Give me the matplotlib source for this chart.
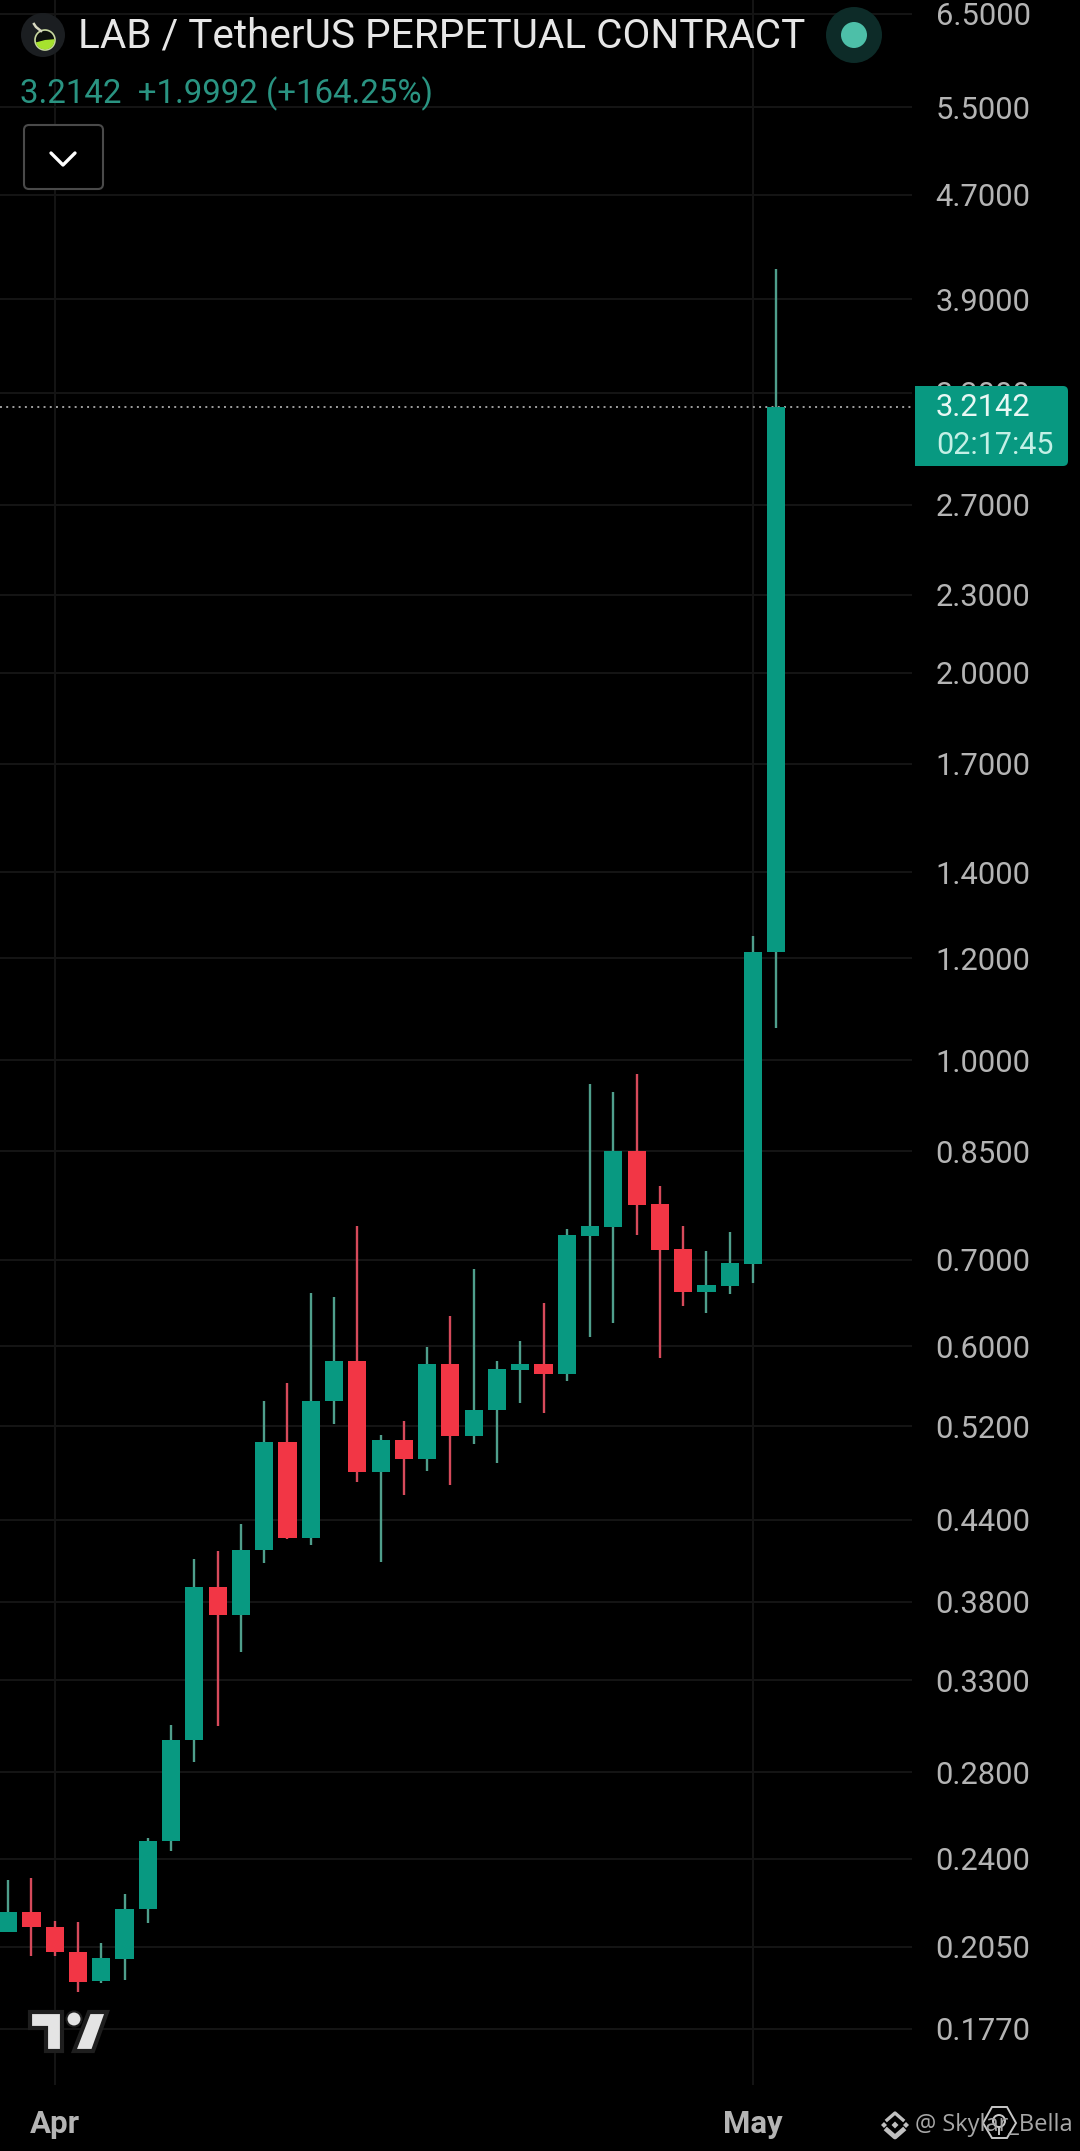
import matplotlib
matplotlib.use('Agg')
import matplotlib.pyplot as plt
from matplotlib.patches import Circle, FancyBboxPatch, Polygon, Rectangle, Wedge

# days counted from Apr 1
days = list(range(-2, 32))
opens = [.2106, .2181, .2122, .2032, .1929, .2007, .2192, .2475, .2965, .3900, .3713, .4165,
         .5057, .4261, .5435, .5845, .4795, .5075, .4905, .5814, .5105, .5355, .5752, .5807,
         .5710, .7309, .7431, .8509, .7740, .7137, .6615, .6684, .6952, 1.2150]
highs = [.2311, .2317, .2148, .2144, .2063, .2252, .2489, .3047, .4100, .4161, .4367, .5441,
         .5616, .6597, .6546, .7441, .5120, .5250, .5996, .6335, .6890, .5841, .6058, .6485,
         .7401, .9592, .9455, .9765, .7992, .7441, .7116, .7362, 1.2498, 4.120]
lows = [.2106, .2015, .2018, .1892, .1921, .1930, .2138, .2433, .2850, .3043, .3474, .4075,
        .4252, .4201, .5222, .4710, .4082, .4594, .4801, .4682, .5039, .4870, .5422, .5327,
        .5640, .6101, .6256, .7322, .5877, .6448, .6369, .6589, .6720, 1.0591]
closes = [.2181, .2122, .2032, .1926, .2008, .2193, .2476, .2966, .3900, .3713, .4169, .5057,
          .4261, .5441, .5845, .4795, .5075, .4905, .5814, .5105, .5355, .5762, .5807, .5710,
          .7322, .7441, .8509, .7726, .7129, .6615, .6696, .6966, 1.2150, 3.2142]

price_ticks = [6.5, 5.5, 4.7, 3.9, 3.3, 2.7, 2.3, 2.0, 1.7, 1.4, 1.2, 1.0, .85, .7, .6, .52,
               .44, .38, .33, .28, .24, .205, .177]
month_days = [0, 30]
month_labels = ['Apr', 'May']
last_price = 3.2142
title = 'LAB / TetherUS PERPETUAL CONTRACT'
change_text = '3.2142  +1.9992 (+164.25%)'
countdown = '02:17:45'

GREEN = '#089981'
RED = '#F23645'
W, H = 1080, 2151

plt.rcParams['font.family'] = ['Roboto', 'DejaVu Sans']
fig = plt.figure(figsize=(W / 100, H / 100), dpi=100, facecolor='black')

# chart area ends at x=912, y=2085
ax = fig.add_axes([0, 1 - 2085 / H, 912 / W, 2085 / H], facecolor='black')
ax.set_yscale('log')

up = [c >= o for o, c in zip(opens, closes)]
body_colors = [GREEN if u else RED for u in up]
wick_colors = ['#4f9f8c' if u else '#d64a5b' for u in up]
ax.vlines(days, lows, highs, colors=wick_colors, linewidth=1.7, zorder=3)
ax.bar(days, [abs(c - o) for o, c in zip(opens, closes)], bottom=[min(o, c) for o, c in zip(opens, closes)],
       width=0.78, color=body_colors, linewidth=0, zorder=4)

ax.axhline(last_price, color='#a0a0a0', linewidth=1.4, linestyle=(0, (1, 2.2)), zorder=2)

ax.set_xlim(-2.35, 36.83)
ax.set_ylim(0.1601, 6.66)
ax.set_yticks(price_ticks)
ax.set_yticklabels(['%.4f' % t for t in price_ticks])
ax.minorticks_off()
ax.set_xticks(month_days)
ax.set_xticklabels(month_labels)
ax.yaxis.tick_right()
ax.tick_params(axis='y', length=0, pad=17, labelsize=22.2, labelcolor='#b4b4b4')
ax.tick_params(axis='x', length=0, pad=17, labelsize=22.5, labelcolor='#b4b4b4')
for lab in ax.get_xticklabels():
    lab.set_fontweight('bold')
ax.grid(True, color='#151515', linewidth=1.4, zorder=0)
ax.set_axisbelow(True)
for s in ax.spines.values():
    s.set_visible(False)

# overlay in pixel coordinates for header, price tag, logos
ov = fig.add_axes([0, 0, 1, 1], facecolor='none')
ov.set_xlim(0, W)
ov.set_ylim(H, 0)
ov.axis('off')

# token icon
ov.add_patch(Circle((43, 35), 22, color='#1b1e21', lw=0))
ov.add_patch(Circle((45, 40), 10, fc='#0c0f0c', ec='#c8d8a0', lw=1.2))
ov.add_patch(Wedge((45, 40), 9.5, -5, 165, color='#a6e22e', lw=0))
ov.plot([41, 36, 34], [31, 27, 24], color='#d8d8c0', lw=1.8)
ov.text(78, 36.5, title, color='#e6e6e6', fontsize=29.2, va='center', ha='left')
ov.add_patch(Circle((854, 35), 28, color='#0d2b28', lw=0))
ov.add_patch(Circle((854, 35), 13, color='#4dbfa8', lw=0))
ov.text(20, 94, change_text, color='#2a9482', fontsize=23.8, va='center', ha='left')

ov.add_patch(FancyBboxPatch((24, 125), 79, 64, boxstyle='round,pad=0,rounding_size=5',
                            fc='black', ec='#4a4a4a', lw=1.5))
ov.plot([51, 63, 75], [153, 165, 153], color='white', lw=2.4, solid_capstyle='round')

# price tag covers the 3.3000 label except for its top edge
ov.add_patch(FancyBboxPatch((915, 386), 153, 80, boxstyle='round,pad=0,rounding_size=5',
                            fc=GREEN, ec='none'))
ov.add_patch(Rectangle((915, 386), 12, 80, fc=GREEN, ec='none'))
ov.text(936, 408, '%.4f' % last_price, color='#e8f8f4', fontsize=22.2, va='center', ha='left')
ov.text(936, 445, countdown, color='#c4f0e6', fontsize=22, va='center', ha='left')

# TradingView logo
logo = [[(30, 2012), (62, 2012), (62, 2051), (46, 2051), (46, 2028), (30, 2028)],
        [(89, 2012), (107, 2012), (93, 2051), (74, 2051)]]
for pts in logo:
    ov.add_patch(Polygon(pts, closed=True, fc='#e4e4e4', ec='#1e1e1e', lw=3, joinstyle='miter'))
ov.add_patch(Circle((74, 2019), 7.5, fc='#e4e4e4', ec='#1e1e1e', lw=1.5))

# Binance square watermark
cx, cy = 895, 2125
for dx, dy, r in [(-11, 0, 3), (11, 0, 3), (0, 0, 3.5)]:
    ov.add_patch(Polygon([(cx + dx, cy + dy - r), (cx + dx + r, cy + dy), (cx + dx, cy + dy + r),
                          (cx + dx - r, cy + dy)], closed=True, color='#c0c0c0', lw=0))
ov.plot([cx - 8, cx, cx + 8], [cy - 5, cy - 12, cy - 5], color='#c0c0c0', lw=2.4)
ov.plot([cx - 8, cx, cx + 8], [cy + 5, cy + 12, cy + 5], color='#c0c0c0', lw=3.4)
ov.text(915, 2125, '@ Skylar_Bella', color='#a8a8a8', fontsize=17, family='Open Sans', va='center', ha='left')
ov.add_patch(Polygon([(992, 2107), (1007, 2107), (1016, 2123), (1007, 2138), (992, 2138), (983, 2123)],
                     closed=True, fc='none', ec='#c8c8c8', lw=1.4))
ov.add_patch(Circle((999, 2121), 6, fc='none', ec='#c8c8c8', lw=1.4))
ov.plot([999, 999], [2127, 2134], color='#c8c8c8', lw=1.4)

fig.savefig('out.png', dpi=100, facecolor='black')
